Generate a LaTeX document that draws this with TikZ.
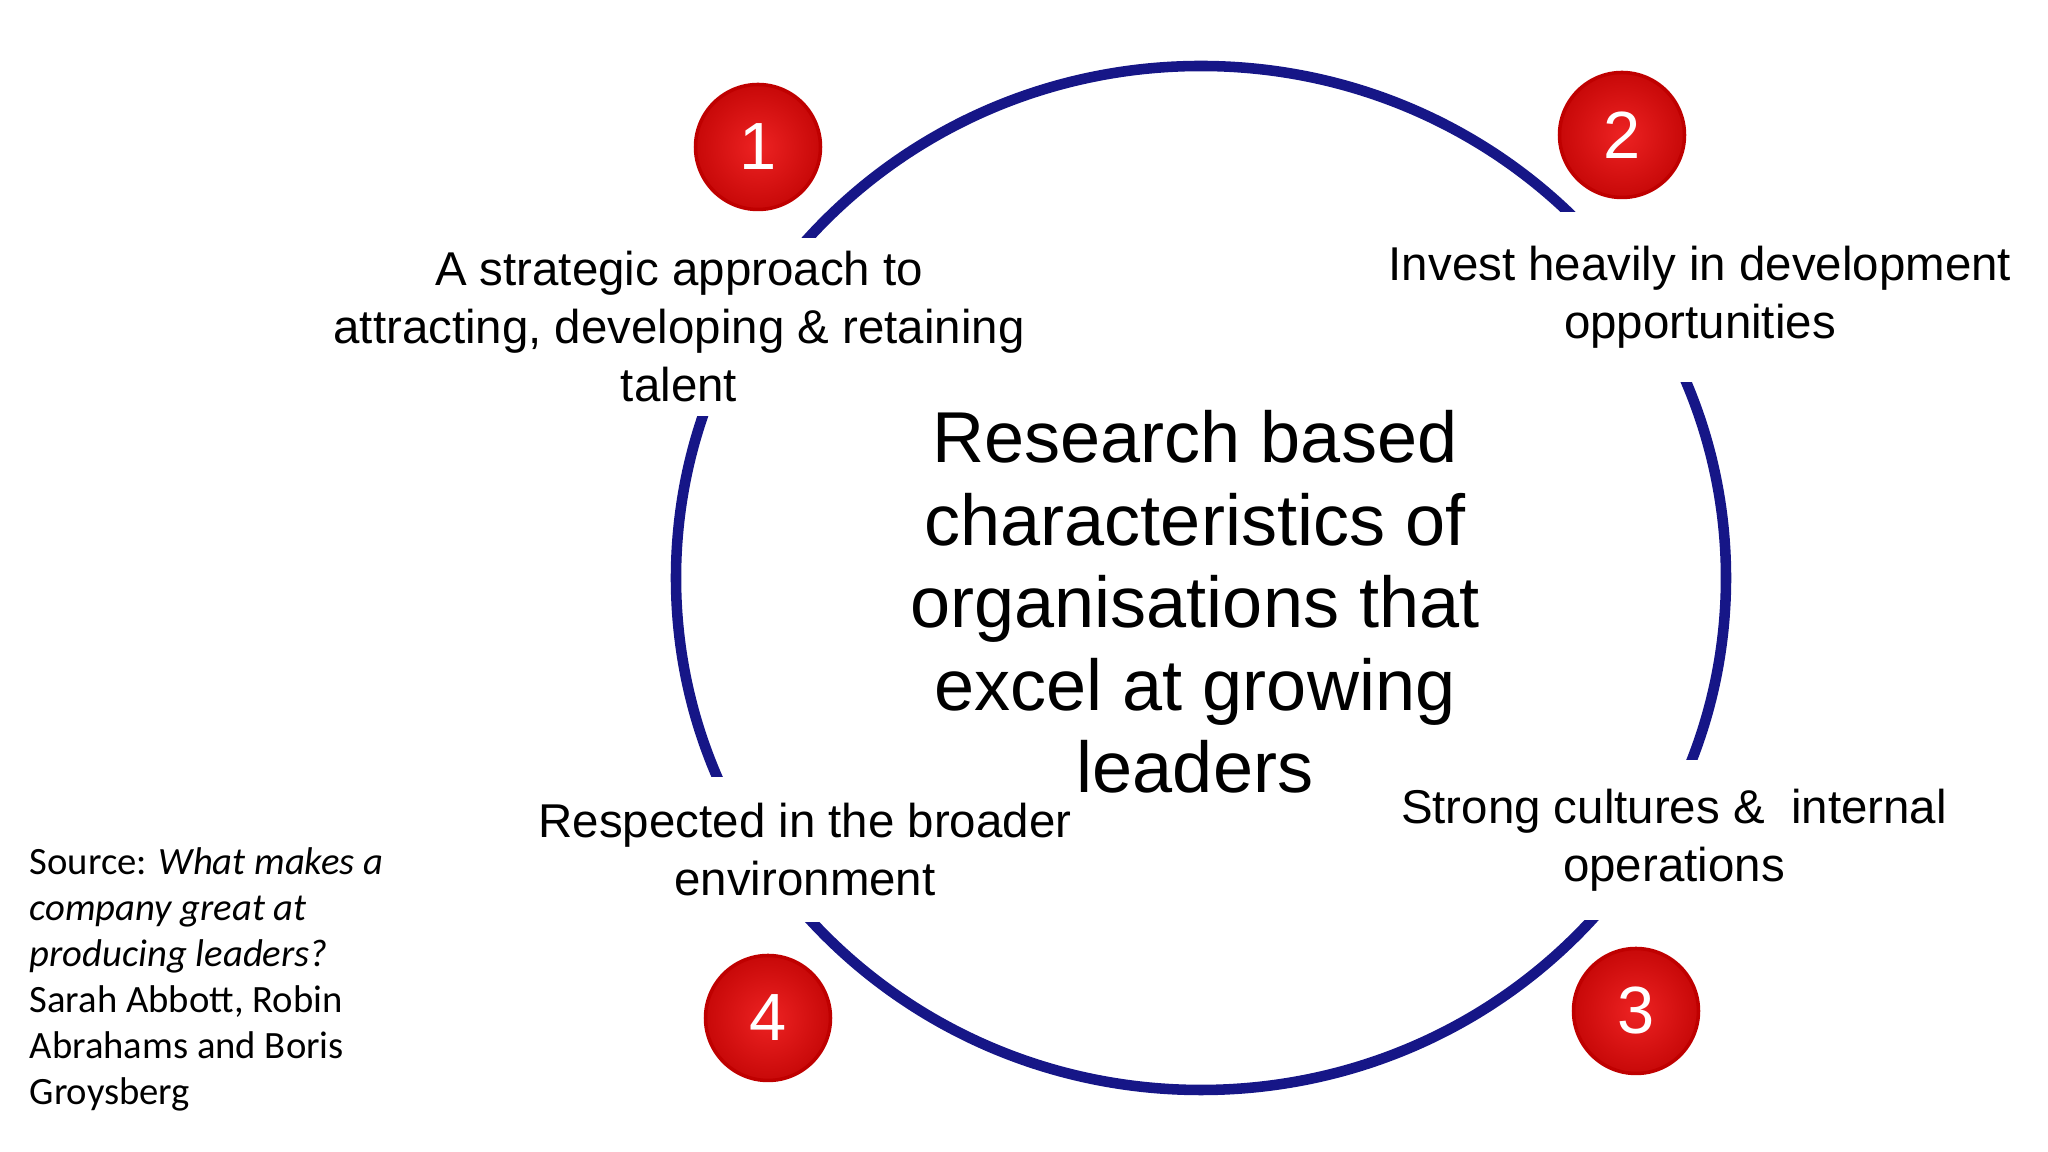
\documentclass[tikz,border=0pt]{standalone}
\usepackage{fontspec}
\setmainfont{Liberation Sans}
\newfontfamily\srcfont{Carlito}
\usetikzlibrary{positioning}
\definecolor{ringblue}{RGB}{22,22,135}
\definecolor{ballred}{RGB}{235,10,10}

\begin{document}
\begin{tikzpicture}[
		ball/.style={circle,draw=red!75!black,line width=1pt,inner sep=0pt,minimum size=1.25cm,
			inner color=ballred!90!white,outer color=ballred!85!black,text=white,font=\fontsize{19}{19}\selectfont},
		label/.style={fill=white,align=center,inner sep=4pt,font=\fontsize{13.5}{16.5}\selectfont},
		ring/.style={draw=ringblue,line width=3pt}]
		\useasboundingbox (0,0) rectangle (20.48,11.52);

		\draw [ring] (12.01,5.74) ellipse [x radius=5.25cm,y radius=5.12cm];

		% white label boxes over the ring
		\node [label,minimum height=1.65cm] (strategic) at (6.79,8.25) {A strategic approach to\\attracting, developing \& retaining\\talent};
		\node [label,minimum height=1.7cm] (invest) at (17.0,8.55) {Invest heavily in development\\opportunities};
		\node [label,minimum height=1.6cm] (strong) at (16.74,3.12) {Strong cultures \&\ \ internal\\operations};
		\node [label,minimum height=1.45cm] (respected) at (8.05,3.02) {Respected in the broader\\environment};

		\node [align=center,font=\fontsize{20.5}{23.5}\selectfont] (research) at (11.95,5.50)
			{Research based\\characteristics of\\organisations that\\excel at growing\\leaders};

		% numbered balls
		\node [ball] (one) at (7.58,10.05) {1};
		\node [ball] (two) at (16.22,10.17) {2};
		\node [ball] (three) at (16.36,1.41) {3};
		\node [ball] (four) at (7.68,1.34) {4};

		\node [anchor=north west,align=left,inner sep=0pt,font=\srcfont\fontsize{11}{13.1}\selectfont] (source) at (0.29,3.05)
			{Source: \textit{What makes a}\\\textit{company great at}\\\textit{producing leaders?}\\Sarah Abbott, Robin\\Abrahams and Boris\\Groysberg};
	\end{tikzpicture}
\end{document}
